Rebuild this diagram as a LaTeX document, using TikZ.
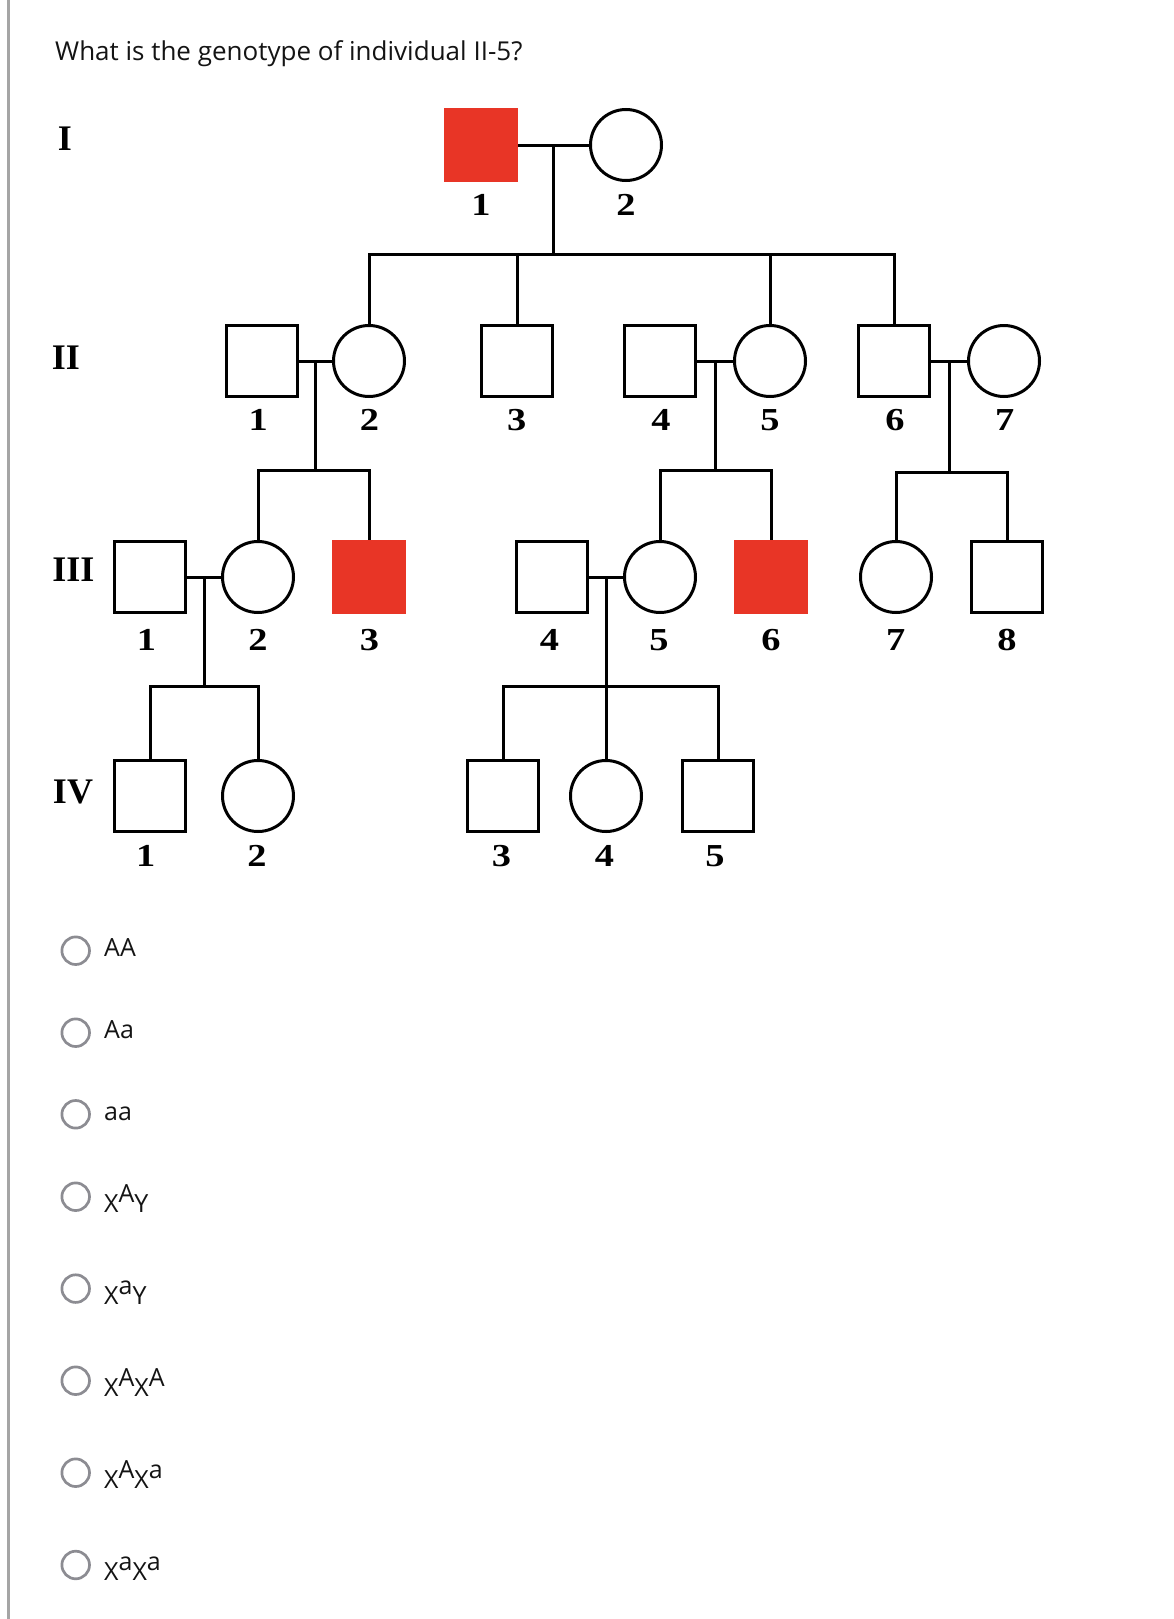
\documentclass[tikz,border=0pt]{standalone}
\usepackage{fontspec}
\setmainfont{Open Sans}
\newfontfamily\pedfont{Liberation Serif}
\usetikzlibrary{calc}
\definecolor{affred}{RGB}{232,53,38}
\definecolor{radiogray}{RGB}{140,140,146}
\definecolor{rulegray}{RGB}{165,165,165}
\definecolor{textblack}{RGB}{20,20,20}
\newcommand\pedlab[1]{\scalebox{1.2}[1]{#1}}
\newcommand\supr[1]{\raisebox{10pt}{#1}}
\begin{document}
\begin{tikzpicture}[x=1pt,y=-1pt,
  lw/.style={line width=3pt},
  unaffm/.style={draw,lw,rectangle,minimum size=71pt,inner sep=0pt},
  affm/.style={fill=affred,rectangle,minimum size=74pt,inner sep=0pt},
  unafff/.style={draw,lw,circle,minimum size=71pt,inner sep=0pt},
  idlab/.style={anchor=base,inner sep=0pt,font=\pedfont\bfseries\fontsize{32}{32}\selectfont},
  genlab/.style={anchor=base,inner sep=0pt,font=\pedfont\bfseries\fontsize{36}{36}\selectfont},
  radio/.style={draw=radiogray,line width=2.7pt,circle,minimum size=27.6pt,inner sep=0pt},
  opt/.style={anchor=base west,inner sep=0pt,text=textblack,font=\fontsize{25}{30}\selectfont}
]
\fill[white] (0,0) rectangle (1174,1619);
\useasboundingbox (0,0) rectangle (1174,1619);
\draw[rulegray,line width=2.3pt] (8.4,0) -- (8.4,1619);

% title
\node[anchor=base west,inner sep=0pt,text=textblack,font=\fontsize{26}{30}\selectfont] (title) at (55,60) {What is the genotype of individual II-5?};

% generation labels
\node[genlab] (gI) at (65,150.7) {I};
\node[genlab] (gII) at (66,369) {II};
\node[genlab] (gIII) at (73.3,581.7) {III};
\node[genlab] (gIV) at (73,803.5) {IV};

% generation I
\node[affm] (I1) at (481,145) {};
\node[unafff] (I2) at (626,145) {};
% generation II
\node[unaffm] (II1) at (262,361) {};
\node[unafff] (II2) at (369,361) {};
\node[unaffm] (II3) at (517,361) {};
\node[unaffm] (II4) at (660,361) {};
\node[unafff] (II5) at (770,361) {};
\node[unaffm] (II6) at (894,361) {};
\node[unafff] (II7) at (1004,361) {};
% generation III
\node[unaffm] (III1) at (150,577) {};
\node[unafff] (III2) at (258,577) {};
\node[affm] (III3) at (369,577) {};
\node[unaffm] (III4) at (552,577) {};
\node[unafff] (III5) at (660,577) {};
\node[affm] (III6) at (771,577) {};
\node[unafff] (III7) at (896,577) {};
\node[unaffm] (III8) at (1007,577) {};
% generation IV
\node[unaffm] (IV1) at (150,796) {};
\node[unafff] (IV2) at (258,796) {};
\node[unaffm] (IV3) at (503,796) {};
\node[unafff] (IV4) at (606,796) {};
\node[unaffm] (IV5) at (718,796) {};

% id labels
\node[idlab] (lI1) at (481,215) {\pedlab{1}};
\node[idlab] (lI2) at (626,215) {\pedlab{2}};
\node[idlab] (lII1) at (258.3,430.5) {\pedlab{1}};
\node[idlab] (lII2) at (369.5,430.5) {\pedlab{2}};
\node[idlab] (lII3) at (516.6,430.5) {\pedlab{3}};
\node[idlab] (lII4) at (661,430.5) {\pedlab{4}};
\node[idlab] (lII5) at (770,430.5) {\pedlab{5}};
\node[idlab] (lII6) at (895,430.5) {\pedlab{6}};
\node[idlab] (lII7) at (1004.8,430.5) {\pedlab{7}};
\node[idlab] (lIII1) at (146.4,650.7) {\pedlab{1}};
\node[idlab] (lIII2) at (258,650.7) {\pedlab{2}};
\node[idlab] (lIII3) at (369.5,650.7) {\pedlab{3}};
\node[idlab] (lIII4) at (549.5,650.7) {\pedlab{4}};
\node[idlab] (lIII5) at (659,650.7) {\pedlab{5}};
\node[idlab] (lIII6) at (771,650.7) {\pedlab{6}};
\node[idlab] (lIII7) at (895.6,650.7) {\pedlab{7}};
\node[idlab] (lIII8) at (1007,650.7) {\pedlab{8}};
\node[idlab] (lIV1) at (145.8,866.7) {\pedlab{1}};
\node[idlab] (lIV2) at (257,866.7) {\pedlab{2}};
\node[idlab] (lIV3) at (501.5,866.7) {\pedlab{3}};
\node[idlab] (lIV4) at (604.5,866.7) {\pedlab{4}};
\node[idlab] (lIV5) at (715,866.7) {\pedlab{5}};

% marriages
\draw[lw] (I1.east) -- (I2.west);
\draw[lw] (II1.east) -- (II2.west);
\draw[lw] (II4.east) -- (II5.west);
\draw[lw] (II6.east) -- (II7.west);
\draw[lw] (III1.east) -- (III2.west);
\draw[lw] (III4.east) -- (III5.west);
\coordinate (mI) at ($(I1.east)!0.5!(I2.west)$);
\coordinate (mA) at ($(II1.east)!0.5!(II2.west)$);
\coordinate (mB) at ($(II4.east)!0.5!(II5.west)$);
\coordinate (mC) at ($(II6.east)!0.5!(II7.west)$);
\coordinate (mD) at ($(III1.east)!0.5!(III2.west)$);
\coordinate (mE) at ($(III4.east)!0.5!(III5.west)$);
% sibship levels
\coordinate (sI) at (0,254);
\coordinate (sA) at (0,470.7);
\coordinate (sB) at (0,470.7);
\coordinate (sC) at (0,472.3);
\coordinate (sD) at (0,686.7);
\coordinate (sE) at (0,686.7);

% family I
\draw[lw] (mI) -- (mI |- sI);
\draw[lw] (II2.north) -- (II2.north |- sI) -- (II6.north |- sI) -- (II6.north);
\draw[lw] (II3.north) -- (II3.north |- sI);
\draw[lw] (II5.north) -- (II5.north |- sI);
% family II-1 x II-2
\draw[lw] (mA) -- (mA |- sA);
\draw[lw] (III2.north) -- (III2.north |- sA) -- (III3.north |- sA) -- (III3.north);
% family II-4 x II-5
\draw[lw] (mB) -- (mB |- sB);
\draw[lw] (III5.north) -- (III5.north |- sB) -- (III6.north |- sB) -- (III6.north);
% family II-6 x II-7
\draw[lw] (mC) -- (mC |- sC);
\draw[lw] (III7.north) -- (III7.north |- sC) -- (III8.north |- sC) -- (III8.north);
% family III-1 x III-2
\draw[lw] (mD) -- (mD |- sD);
\draw[lw] (IV1.north) -- (IV1.north |- sD) -- (IV2.north |- sD) -- (IV2.north);
% family III-4 x III-5
\draw[lw] (mE) -- (mE |- sE);
\draw[lw] (IV3.north) -- (IV3.north |- sE) -- (IV5.north |- sE) -- (IV5.north);
\draw[lw] (IV4.north) -- (IV4.north |- sE);

% answer options
\node[radio] (r1) at (75.7,950.7) {};
\node[opt] (o1) at (104,956.7) {AA};
\node[radio] (r2) at (75.7,1032.7) {};
\node[opt] (o2) at (104,1038.7) {Aa};
\node[radio] (r3) at (75.7,1114.3) {};
\node[opt] (o3) at (104,1120.3) {aa};
\node[radio] (r4) at (75.7,1196.7) {};
\node[opt] (o4) at (104,1212.2) {X\supr{A}Y};
\node[radio] (r5) at (75.7,1288.6) {};
\node[opt] (o5) at (104,1304.1) {X\supr{a}Y};
\node[radio] (r6) at (75.7,1380.7) {};
\node[opt] (o6) at (104,1396.2) {X\supr{A}X\supr{A}};
\node[radio] (r7) at (75.7,1472.7) {};
\node[opt] (o7) at (104,1488.2) {X\supr{A}X\supr{a}};
\node[radio] (r8) at (75.7,1565) {};
\node[opt] (o8) at (104,1580.5) {X\supr{a}X\supr{a}};
\end{tikzpicture}
\end{document}
